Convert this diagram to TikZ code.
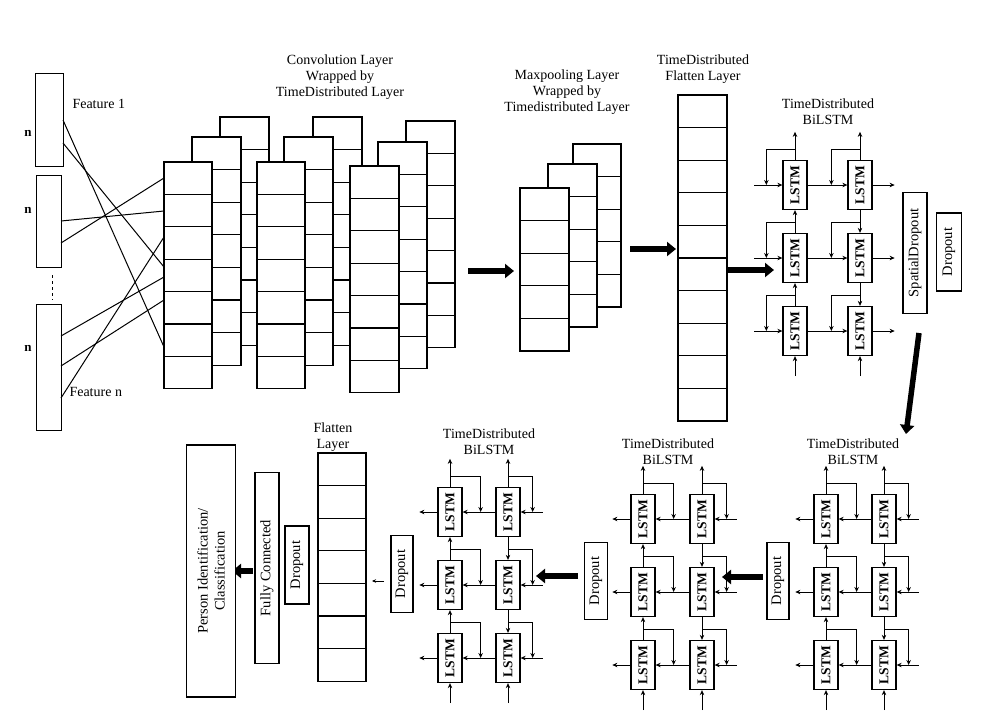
\documentclass[tikz,border=0pt]{standalone}
\usepackage{fontspec}
\setmainfont{Liberation Serif}
\usetikzlibrary{arrows.meta,calc}
\begin{document}
\begin{tikzpicture}[x=1pt,y=-1pt,
  box/.style={draw,line width=1.3pt,fill=white},
  lstm/.style={draw,line width=1.3pt,minimum width=24pt,minimum height=49pt,inner sep=0pt,font=\bfseries\fontsize{13.5}{13.5}\selectfont},
  ar/.style={-{Stealth[length=5pt,width=4.5pt]},line width=1pt},
  big/.style={-{Triangle[length=9pt,width=14pt]},line width=5.5pt},
  ln/.style={line width=1pt},
  ttl/.style={align=center,font=\fontsize{14}{16}\selectfont},
  rt/.style={rotate=90,font=\fontsize{14.5}{17}\selectfont}]
\useasboundingbox (0,0) rectangle (986,723);
\fill[white] (0,0) rectangle (986,723);
\newcommand\stk[5]{\draw[box] (#1,#2) rectangle ++(#3,#4*#5);
  \foreach \k in {1,...,#5}{\ifnum\k<#5 \draw[line width=1.3pt] (#1,#2+\k*#4) -- ++(#3,0);\fi}}
% input features
\draw[line width=0.7pt] (35,73) rectangle (63,166);
\draw[line width=0.7pt] (36,175) rectangle (61,267);
\draw[line width=0.7pt] (36,304) rectangle (61,430);
\draw[dashed,line width=1pt] (52,275) -- (52,300);
\node[font=\bfseries\fontsize{13}{13}\selectfont] (n1) at (28,133) {n};
\node[font=\bfseries\fontsize{13}{13}\selectfont] (n2) at (28,210) {n};
\node[font=\bfseries\fontsize{13}{13}\selectfont] (n3) at (28,348) {n};
\node[anchor=west,font=\fontsize{14}{16}\selectfont] (f1) at (69,104) {Feature 1};
\node[anchor=west,font=\fontsize{14}{16}\selectfont] (fn) at (66,392) {Feature n};
% conv stacks
\stk{220}{117}{49}{32.6}{7}\stk{192}{137}{49}{32.6}{7}\stk{164}{162}{48}{32.4}{7}
\stk{313}{117}{49}{32.6}{7}\stk{284}{137}{49}{32.6}{7}\stk{257}{162}{48}{32.4}{7}
\stk{406}{121}{49}{32.4}{7}\stk{378}{142}{49}{32.4}{7}\stk{350}{166}{49}{32.4}{7}
\foreach \a/\b/\c/\d in {63/120/164/347, 63/143/164/267, 61/221/164/211, 61/243/164/178, 61/336/164/277, 61/366/164/300, 61/398/164/237}
  \draw[ln] (\a,\b) -- (\c,\d);
\node[ttl] (tc) at (340,77) {Convolution Layer\\Wrapped by\\TimeDistributed Layer};
\coordinate (a1s) at (468,271); \coordinate (a1e) at (514,271);
\draw[big] (a1s) -- (a1e);
% maxpool
\stk{573}{144}{48}{32.6}{5}\stk{548}{164}{49}{32.6}{5}\stk{520}{188}{49}{32.6}{5}
\node[ttl] (tm) at (567,92) {Maxpooling Layer\\Wrapped by\\Timedistributed Layer};
\coordinate (a2s) at (630,249); \coordinate (a2e) at (676,249);
\draw[big] (a2s) -- (a2e);
% flatten
\stk{678}{95}{49}{32.6}{10}
\node[ttl] (tf) at (703,69) {TimeDistributed\\Flatten Layer};
\coordinate (a3s) at (728,270); \coordinate (a3e) at (774,270);
\draw[big] (a3s) -- (a3e);
\newcommand\bil[7]{%
 \node[lstm] (#1L1) at (#2,#4) {\rotatebox{90}{LSTM}};
 \node[lstm] (#1L2) at (#2,#5) {\rotatebox{90}{LSTM}};
 \node[lstm] (#1L3) at (#2,#6) {\rotatebox{90}{LSTM}};
 \node[lstm] (#1R1) at (#3,#4) {\rotatebox{90}{LSTM}};
 \node[lstm] (#1R2) at (#3,#5) {\rotatebox{90}{LSTM}};
 \node[lstm] (#1R3) at (#3,#6) {\rotatebox{90}{LSTM}};
 \draw[ar] ($(#1L3.south)+(0,20)$) -- (#1L3.south);
 \draw[ar] (#1L3.north) -- (#1L2.south);
 \draw[ar] (#1L2.north) -- (#1L1.south);
 \draw[ar] (#1L1.north) -- ++(0,-28);
 \draw[ar] (#1R1.north) -- ++(0,-28);
 \draw[ar] (#1R1.south) -- (#1R2.north);
 \draw[ar] (#1R2.south) -- (#1R3.north);
 \draw[ar] ($(#1R3.south)+(0,20)$) -- (#1R3.south);
 \foreach \r in {1,2,3}{
  \ifnum#7>0
   \draw[ar] ($(#1L\r.west)+(-28,0)$) -- (#1L\r.west);
   \draw[ar] (#1L\r.east) -- (#1R\r.west);
   \draw[ar] (#1R\r.east) -- ++(22,0);
   \draw[ar] ($(#1L\r.north)+(0,-10)$) -| ($(#1L\r.west)+(-16,0)$);
   \draw[ar] ($(#1R\r.north)+(0,-10)$) -| ($(#1R\r.west)+(-16,0)$);
  \else
   \draw[ar] ($(#1R\r.east)+(22,0)$) -- (#1R\r.east);
   \draw[ar] (#1R\r.west) -- (#1L\r.east);
   \draw[ar] (#1L\r.west) -- ++(-18,0);
   \draw[ar] ($(#1L\r.north)+(0,-10)$) -| ($(#1L\r.east)+(18,0)$);
   \draw[ar] ($(#1R\r.north)+(0,-10)$) -| ($(#1R\r.east)+(12,0)$);
  \fi}}
\bil{T}{795}{860}{185}{258}{331}{1}
\node[ttl] (tt) at (828,112) {TimeDistributed\\BiLSTM};
\node[box,minimum width=24pt,minimum height=121pt,inner sep=0pt] (sd) at (915,253) {};
\node[rt] at (sd) {SpatialDropout};
\node[box,minimum width=25pt,minimum height=78pt,inner sep=0pt] (d0) at (949,252) {};
\node[rt] at (d0) {Dropout};
\coordinate (a4s) at (919,333); \coordinate (a4e) at (906,434);
\draw[big] (a4s) -- (a4e);
\bil{C}{826}{884}{519}{592}{665}{-1}
\node[ttl] (tc2) at (853,452) {TimeDistributed\\BiLSTM};
\node[box,minimum width=22pt,minimum height=77pt,inner sep=0pt] (d1) at (778,581) {};
\node[rt] at (d1) {Dropout};
\coordinate (a5s) at (763,577); \coordinate (a5e) at (722,577);
\draw[big] (a5s) -- (a5e);
\bil{B}{643}{702}{519}{592}{665}{-1}
\node[ttl] (tb2) at (668,452) {TimeDistributed\\BiLSTM};
\node[box,minimum width=23pt,minimum height=77pt,inner sep=0pt] (d2) at (596,581) {};
\node[rt] at (d2) {Dropout};
\coordinate (a6s) at (578,576); \coordinate (a6e) at (536,576);
\draw[big] (a6s) -- (a6e);
\bil{A}{450}{508}{512}{585}{658}{-1}
\node[ttl] (ta2) at (489,442) {TimeDistributed\\BiLSTM};
\node[box,minimum width=22pt,minimum height=77pt,inner sep=0pt] (d3) at (402,574) {};
\node[rt] at (d3) {Dropout};
\coordinate (a7s) at (384,581); \coordinate (a7e) at (372,581);
\draw[-{Stealth[length=4pt,width=3.5pt]},line width=0.7pt] (a7s) -- (a7e);
\stk{318}{453}{48}{32.6}{7}
\node[ttl] (tfl) at (333,437) {Flatten\\Layer};
\node[box,minimum width=24pt,minimum height=78pt,inner sep=0pt] (d4) at (297,565) {};
\node[rt] at (d4) {Dropout};
\node[box,minimum width=24pt,minimum height=191pt,inner sep=0pt] (fc) at (267,568) {};
\node[rt] at (fc) {Fully Connected};
\coordinate (a8s) at (253,571); \coordinate (a8e) at (232,571);
\draw[big] (a8s) -- (a8e);
\node[box,minimum width=49pt,minimum height=252pt,inner sep=0pt] (pc) at (211,571) {};
\node[rt,align=center] at (pc) {Person Identification/\\Classification};
\end{tikzpicture}
\end{document}
